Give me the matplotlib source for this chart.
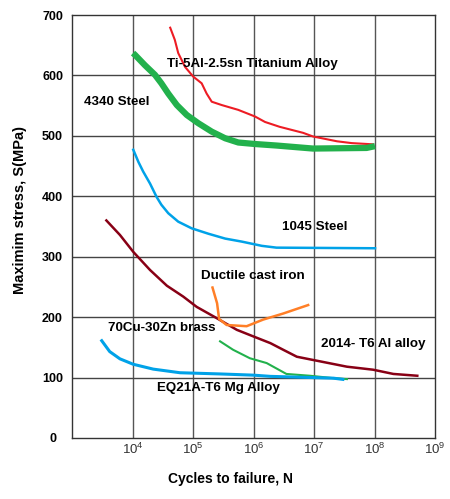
import matplotlib
matplotlib.use("Agg")
import matplotlib.pyplot as plt
from matplotlib.ticker import FixedLocator, NullLocator

plt.rcParams['font.family'] = ['Liberation Sans', 'DejaVu Sans']
plt.rcParams['mathtext.fontset'] = 'custom'
plt.rcParams['mathtext.rm'] = 'Liberation Sans'
plt.rcParams['mathtext.it'] = 'Liberation Sans'
plt.rcParams['mathtext.bf'] = 'Liberation Sans:bold'

# --- data (cycles N, stress MPa) ---
ti_n = [4.2e4, 5.0e4, 5.7e4, 7.4e4, 1.01e5, 1.39e5, 1.68e5, 2.04e5, 2.98e5, 5.6e5, 1.06e6, 1.55e6, 2.7e6, 6.6e6, 9.6e6, 2.4e7, 4.2e7, 9.4e7]
ti_s = [679, 659, 637, 614, 598, 587, 570, 556.5, 551, 543, 532, 523, 515, 505, 499, 491, 488, 486]

s4340_n = [1.02e4, 1.1e4, 1.6e4, 2.35e4, 3.0e4, 3.9e4, 5.4e4, 7.9e4, 1.22e5, 2.04e5, 3.4e5, 5.6e5, 1.06e6, 2.4e6, 9.6e6, 7.4e7, 1.02e8]
s4340_s = [637, 634, 617, 601, 587, 570, 551, 534.5, 521, 507, 496, 489, 486.5, 484, 479, 480, 483]

s1045_n = [1.03e4, 1.25e4, 1.5e4, 1.95e4, 2.5e4, 3.0e4, 3.9e4, 5.7e4, 9.5e4, 1.8e5, 3.4e5, 6.4e5, 1.37e6, 2.4e6, 1.02e8]
s1045_s = [477, 457, 441, 421, 399, 386, 372, 358, 347, 338, 330, 325, 318, 315, 314]

al_n = [3.7e3, 6.2e3, 1.03e4, 1.95e4, 3.7e4, 6.9e4, 1.15e5, 2.5e5, 5.3e5, 1.0e6, 1.9e6, 3.1e6, 5.2e6, 9.8e6, 3.5e7, 9.5e7, 2.05e8, 5.1e8]
al_s = [360, 336, 308, 278, 252, 234, 217, 198, 179, 168, 157, 146, 134.5, 129, 118, 113, 106, 103]

iron_n = [2.1e5, 2.5e5, 2.7e5, 3.6e5, 7.7e5, 1.45e6, 3.1e6, 8.0e6]
iron_s = [249, 223, 197, 187, 185, 196, 206, 220]

brass_n = [2.8e5, 4.6e5, 8.7e5, 1.65e6, 3.5e6, 8.6e6, 2.1e7, 3.5e7]
brass_s = [160, 146, 132, 124, 106, 103, 99, 97.5]

mg_n = [3.1e3, 4.2e3, 6.2e3, 1.03e4, 2.2e4, 6.1e4, 2.8e5, 1.0e6, 1.9e6, 9.6e6, 2.1e7, 3.0e7]
mg_s = [161, 143, 131, 122, 114, 108, 106, 104, 102, 100, 99, 97]

y_ticks = [0, 100, 200, 300, 400, 500, 600, 700]
x_ticks = [1e4, 1e5, 1e6, 1e7, 1e8, 1e9]
x_tick_labels = ['$10^{4}$', '$10^{5}$', '$10^{6}$', '$10^{7}$', '$10^{8}$', '$10^{9}$']

fig = plt.figure(figsize=(4.5, 4.99), dpi=100)
ax = fig.add_axes([72/450, 1-438/499, (435-72)/450, (438-15)/499])
ax.set_xscale('log')
ax.set_xlim(1e3, 1e9)
ax.set_ylim(0, 700)

# grid
for gx in [1e4, 1e5, 1e6, 1e7, 1e8]:
    ax.axvline(gx, color='#555555', lw=1.0, zorder=1)
for gy in [100, 200, 300, 400, 500, 600]:
    ax.axhline(gy, color='#444444', lw=1.0, zorder=1)

ax.plot(ti_n, ti_s, color='#ED1C24', lw=1.5, zorder=3)
ax.plot(s4340_n, s4340_s, color='#22B14C', lw=4.5, solid_capstyle='butt', solid_joinstyle='round', zorder=3)
ax.plot(s1045_n, s1045_s, color='#00A2E8', lw=1.8, zorder=3)
ax.plot(al_n, al_s, color='#880015', lw=1.8, zorder=3)
ax.plot(iron_n, iron_s, color='#FF7F27', lw=1.8, zorder=3)
ax.plot(brass_n, brass_s, color='#22B14C', lw=1.5, zorder=3)
ax.plot(mg_n, mg_s, color='#00A2E8', lw=2.2, zorder=3)

tkw = dict(fontsize=9.6, fontweight='bold', va='center', ha='left', zorder=5)
ax.text(3.7e4, 619, 'Ti-5Al-2.5sn Titanium Alloy', **tkw)
ax.text(1.58e3, 556, '4340 Steel', **tkw)
ax.text(2.96e6, 349, '1045 Steel', **tkw)
ax.text(1.36e5, 268.6, 'Ductile cast iron', **tkw)
ax.text(3.94e3, 182, '70Cu-30Zn brass', **tkw)
ax.text(1.31e7, 155.6, '2014- T6 Al alloy', **tkw)
ax.text(2.54e4, 82.7, 'EQ21A-T6 Mg Alloy', **tkw)

ax.xaxis.set_major_locator(FixedLocator(x_ticks))
ax.xaxis.set_minor_locator(NullLocator())
ax.set_xticklabels(x_tick_labels)
ax.set_yticks(y_ticks)
ax.set_yticklabels([str(v) for v in y_ticks])
ax.tick_params(axis='x', length=0, pad=3, labelsize=9.5, labelcolor='#333333')
ax.tick_params(axis='y', length=0, pad=14, labelsize=9)
for lab in ax.get_yticklabels():
    lab.set_fontweight('bold')
    lab.set_ha('center')

for sp in ax.spines.values():
    sp.set_color('#333333')
    sp.set_linewidth(1.0)

ax.set_xlabel('Cycles to failure, N', fontsize=10, fontweight='bold')
ax.xaxis.set_label_coords((230-72)/363, -(472-438)/423)
ax.set_ylabel('Maximim stress, S(MPa)', fontsize=10.5, fontweight='bold')
ax.yaxis.set_label_coords(-(72-27)/363, (438-210)/423)

fig.savefig('out.png', dpi=100)
